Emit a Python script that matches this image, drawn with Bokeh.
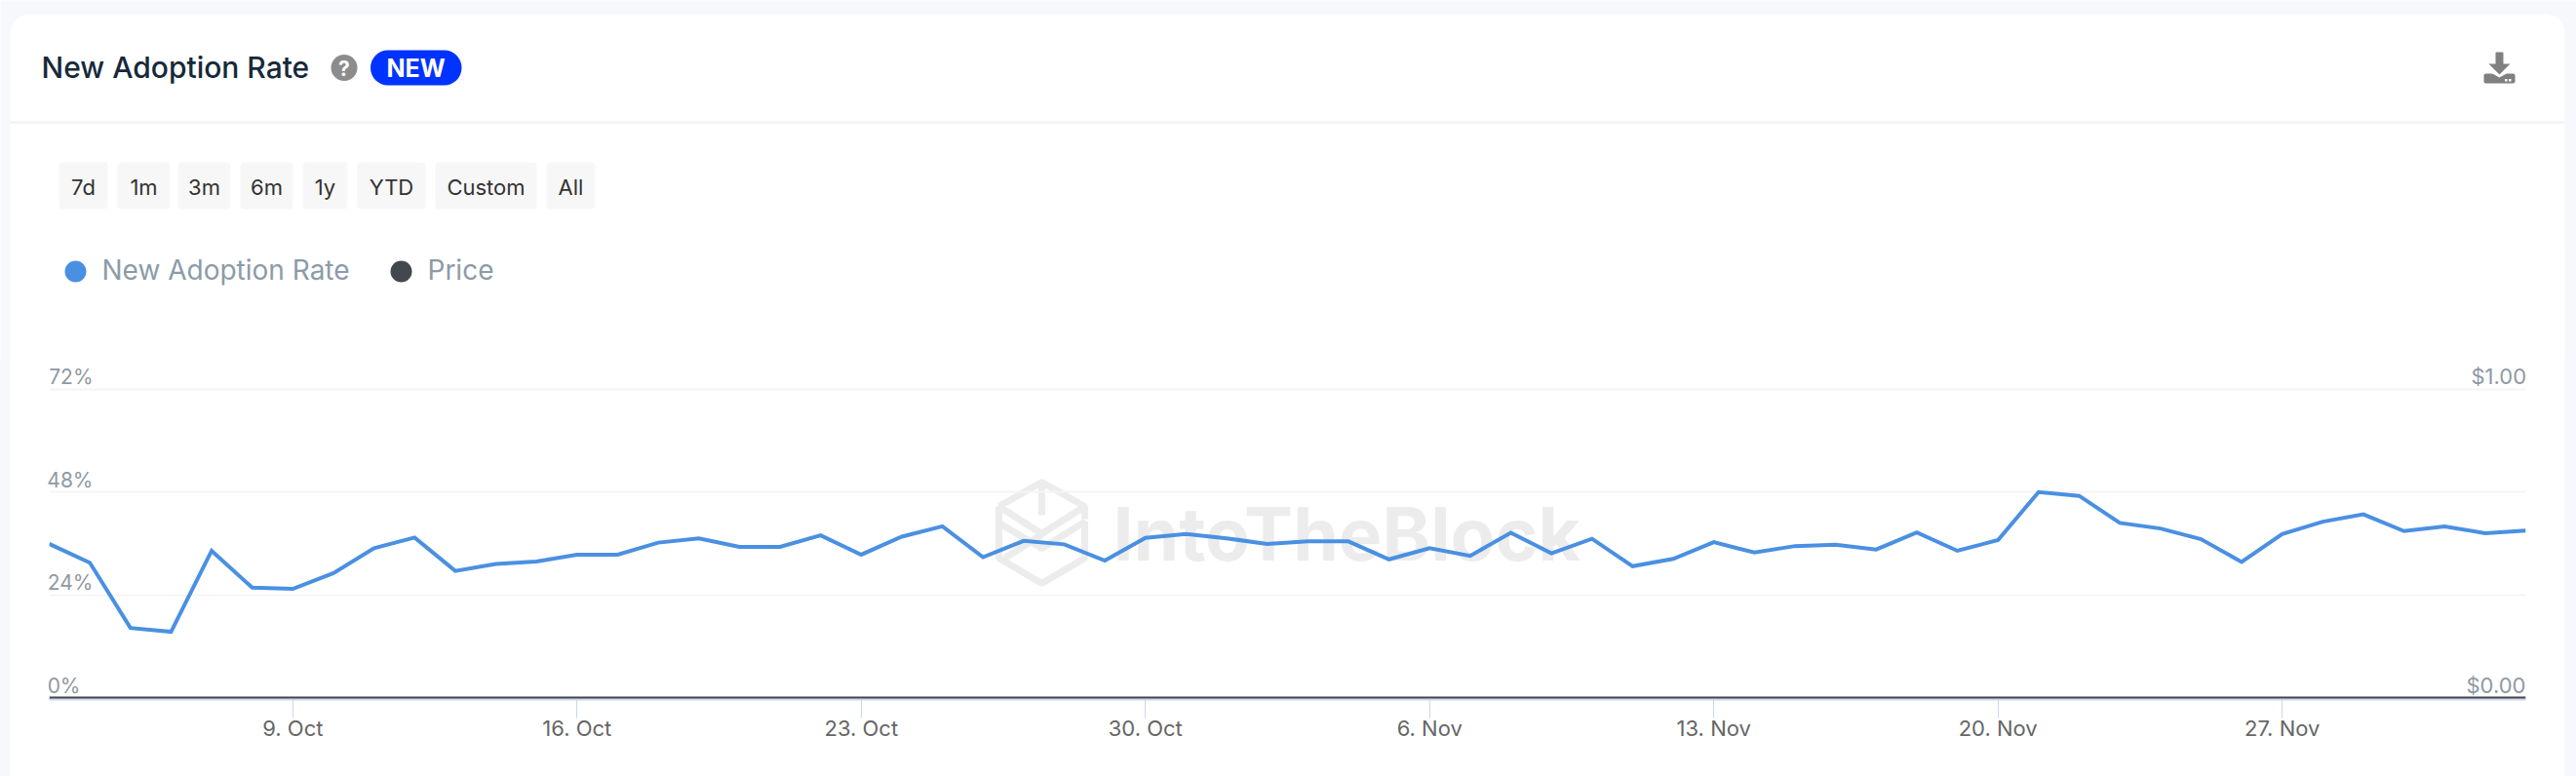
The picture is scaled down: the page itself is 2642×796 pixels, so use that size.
from bokeh.plotting import figure
from bokeh.embed import file_html
from bokeh.resources import INLINE
from bokeh.layouts import column, row
from bokeh.models import Range1d, LinearAxis, FixedTicker, PrintfTickFormatter, NumeralTickFormatter, Div
from bokeh.core.properties import value
import pandas as pd

adoption_rate = [35.9, 31.5, 16.3, 15.4, 34.3, 25.7, 25.4, 29.1, 34.9, 37.4, 29.6, 31.2, 31.8, 33.4, 33.4,
                 36.2, 37.2, 35.2, 35.2, 37.9, 33.4, 37.6, 40.0, 32.8, 36.6, 35.8, 32.0, 37.3, 38.2,
                 37.2, 35.9, 36.5, 36.5, 32.3, 34.9, 33.1, 38.5, 33.7, 37.1, 30.7, 32.4, 36.3, 33.9,
                 35.4, 35.7, 34.6, 38.6, 34.3, 36.8, 48.0, 47.1, 40.8, 39.5, 37.0, 31.7, 38.2, 41.1,
                 42.8, 38.9, 40.0, 38.4, 39.0]
price = [0.0] * len(adoption_rate)
dates = pd.date_range("2023-10-03", periods=len(adoption_rate), freq="D")
tick_dates = ["2023-10-09", "2023-10-16", "2023-10-23", "2023-10-30", "2023-11-06", "2023-11-13", "2023-11-20", "2023-11-27"]
tick_labels = ["9. Oct", "16. Oct", "23. Oct", "30. Oct", "6. Nov", "13. Nov", "20. Nov", "27. Nov"]
rate_ticks = [24, 48, 72]
rate_zero_tick = [0]
price_top_tick = [1.0]
price_zero_tick = [0.0]
range_buttons = ["7d", "1m", "3m", "6m", "1y", "YTD", "Custom", "All"]
legend_names = ["New Adoption Rate", "Price"]

FONT = "Inter"
BG = "#f7f8fc"
BLUE = "#4a90e2"
DARK = "#43484e"

# ---------- header: a figure whose data space is the page's pixel space
head = figure(width=2642, height=370, x_axis_type=None, y_axis_type=None, output_backend="svg",
              toolbar_location=None, min_border=0, outline_line_color=None,
              x_range=Range1d(0, 2642), y_range=Range1d(370, 0),
              background_fill_color=BG, border_fill_color=BG)
head.xgrid.visible = False
head.ygrid.visible = False


def box(l, t, r, b, color, radius=0):
    head.quad(left=[l], right=[r], top=[t], bottom=[b], fill_color=color, line_color=None, border_radius=radius)


def label(x, y, text, size, color, align="left", style="normal", font=FONT):
    head.text(x=[x], y=[y], text=[text], text_font=value(font), text_font_size=f"{size}px", text_color=color,
              text_align=align, text_baseline="middle", text_font_style=style)


box(10, 14, 2630, 420, "white", 20)
box(10, 124, 2630, 126, "#f0f0f0")

label(42, 68, "New Adoption Rate", 30, "#16293a", font="Inter Medium, Inter")
head.circle(x=[352.5], y=[69], radius=13.5, fill_color="#8c8c8c", line_color=None)
label(352.5, 70, "?", 21, "white", align="center", style="bold")
box(379.5, 51, 473, 87, "#0033ff", 18)
label(426, 69, "NEW", 25, "white", align="center", style="bold")

# download icon
box(2547, 75, 2579, 85, "#808080", 2)
head.patch([2554, 2572, 2563], [74, 74, 79], fill_color="white", line_color=None)
box(2559, 53, 2567, 66, "#808080", 1)
head.patch([2552, 2574, 2563], [65, 65, 76], fill_color="#808080", line_color=None)
box(2568.5, 80.5, 2571, 83, "white")
box(2572.5, 80.5, 2575, 83, "white")

button_edges = [(60, 110), (120, 174), (182, 236), (246, 300), (310, 356), (366, 436), (446, 550), (560, 610)]
for name, (l, r) in zip(range_buttons, button_edges):
    box(l, 166, r, 214, "#f7f7f7", 4)
    label((l + r) / 2, 191, name, 22, "#333333", align="center")

for name, cx, tx, col in zip(legend_names, [77, 411], [104, 438], [BLUE, DARK]):
    head.circle(x=[cx], y=[278], radius=11, fill_color=col, line_color=None)
    label(tx, 276, name, 28, "#8c9ba8")

# ---------- chart
p = figure(width=2620, height=426, x_axis_type="datetime", output_backend="svg", toolbar_location=None,
           min_border_left=40, min_border_right=40, min_border_top=9, min_border_bottom=79,
           border_fill_color="white", background_fill_color="white", outline_line_color=None,
           x_range=Range1d(dates[0], dates[-1]), y_range=Range1d(-0.387, 76.48))
PCT_SHIFT = 2.89     # tick labels sit above their grid lines
p.extra_y_ranges["price"] = Range1d(-0.387 / 72, 76.48 / 72)
p.extra_y_ranges["rate_lab"] = Range1d(-0.387 - PCT_SHIFT, 76.48 - PCT_SHIFT)
p.extra_y_ranges["price_lab"] = Range1d((-0.387 - PCT_SHIFT) / 72, (76.48 - PCT_SHIFT) / 72)
p.extra_x_ranges["px"] = Range1d(50, 2590)
p.extra_y_ranges["py"] = Range1d(717, 379)

# watermark
WM = "#ececec"
wm = dict(x_range_name="px", y_range_name="py", line_color=WM, line_width=7, level="underlay")
p.line([1024, 1068, 1112, 1112], [519, 494, 519, 532], **wm)
p.line([1024, 1024, 1068, 1112, 1112, 1068, 1024], [519, 572, 598, 572, 535, 562, 536], **wm)
p.line([1068, 1068], [494, 528], **wm)
p.line([1024, 1068, 1112], [519, 547, 519], **wm)
p.line([1030, 1068], [572, 548], **wm)
p.text(x=[1141], y=[547], text=["IntoTheBlock"], text_font=value(FONT), text_font_size="75px",
       text_font_style="bold", text_color=WM, text_baseline="middle", x_range_name="px", y_range_name="py",
       level="underlay")

p.line(dates, adoption_rate, line_color=BLUE, line_width=4, line_join="miter")
p.line(dates, price, y_range_name="price", line_color=DARK, line_width=2.5)

tick_ms = [pd.Timestamp(d).timestamp() * 1000 for d in tick_dates]
xa = p.xaxis[0]
xa.ticker = FixedTicker(ticks=tick_ms)
xa.major_label_overrides = dict(zip(tick_ms, tick_labels))
xa.axis_line_color = "#ccd6eb"
xa.axis_line_width = 2
xa.major_tick_line_color = "#ccd6eb"
xa.major_tick_line_width = 1
xa.major_tick_out = 19
xa.major_tick_in = 0
xa.minor_tick_line_color = None
xa.major_label_standoff = -3
xa.major_label_text_font = FONT
xa.major_label_text_font_size = "22px"
xa.major_label_text_color = "#666666"

p.yaxis.visible = False
p.xgrid.grid_line_color = None
p.ygrid.grid_line_color = "#f5f5f5"
p.ygrid.grid_line_width = 2
p.ygrid.ticker = FixedTicker(ticks=rate_ticks + rate_zero_tick)


def lab_axis(where, rng, ticks, fmt, standoff, size):
    ax = LinearAxis(y_range_name=rng, ticker=FixedTicker(ticks=ticks), formatter=fmt, axis_line_color=None,
                    major_tick_line_color=None, minor_tick_line_color=None, major_tick_in=0, major_tick_out=0,
                    major_label_standoff=standoff, major_label_text_font=FONT, major_label_text_font_size=size,
                    major_label_text_color="#8f99a3")
    p.add_layout(ax, where)


pct = PrintfTickFormatter(format="%d%%")
usd = NumeralTickFormatter(format="$0.00")
lab_axis("left", "rate_lab", rate_ticks, pct, -45, "21px")
lab_axis("left", "rate_lab", rate_zero_tick, pct, -37, "21px")
lab_axis("right", "price_lab", price_top_tick, usd, -56, "22px")
lab_axis("right", "price_lab", price_zero_tick, usd, -65, "22px")

left_edge = Div(width=10, height=426, margin=0, styles={"background": BG})
right_edge = Div(width=12, height=426, margin=0, styles={"background": BG})
page = column(head, row(left_edge, p, right_edge, spacing=0), spacing=0)

open("out.html", "w").write(file_html(page, INLINE))
